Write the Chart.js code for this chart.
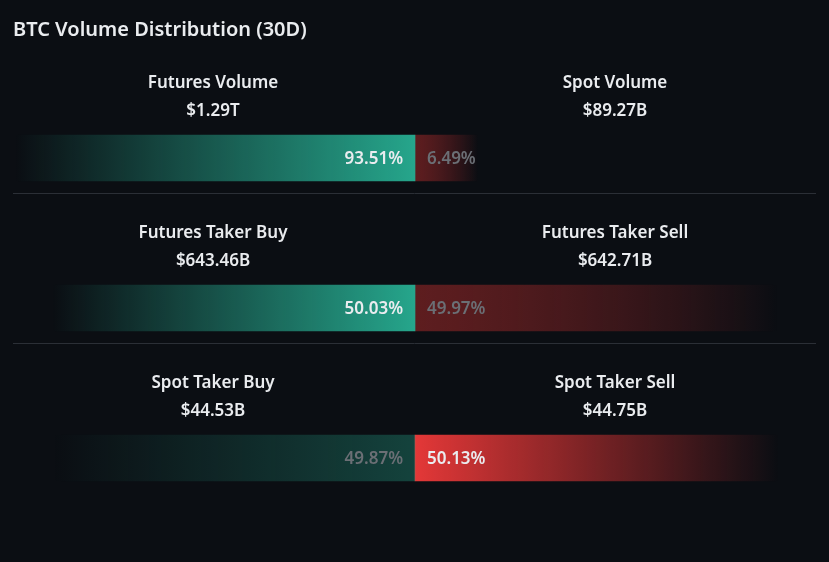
<!DOCTYPE html>
<html>
<head>
<meta charset="utf-8">
<script src="https://cdn.jsdelivr.net/npm/chart.js@4/dist/chart.umd.min.js"></script>
<style>
  html, body { margin: 0; padding: 0; background: #0b0e13; }
  #wrap { position: relative; width: 829px; height: 562px; }
</style>
</head>
<body>
<div id="wrap"><canvas id="c" width="829" height="562"></canvas></div>
<script>
// Data
const rows = ['Volume', 'Taker', 'SpotTaker'];
const leftNames = ['Futures Volume', 'Futures Taker Buy', 'Spot Taker Buy'];
const rightNames = ['Spot Volume', 'Futures Taker Sell', 'Spot Taker Sell'];
const leftAmounts = ['$1.29T', '$643.46B', '$44.53B'];
const rightAmounts = ['$89.27B', '$642.71B', '$44.75B'];
const leftPct = [93.51, 50.03, 49.87];
const rightPct = [6.49, 49.97, 50.13];

const MIN_LEN = 8.7; // keeps room for the label on tiny shares
const FONT = '"Noto Sans", "Open Sans", sans-serif';

function leftDominant(i) { return leftPct[i] >= rightPct[i]; }

function grad(ctx, dir) {
  const chart = ctx.chart, area = chart.chartArea;
  if (!area) return 'transparent';
  const i = ctx.dataIndex;
  const x = chart.scales.x;
  const raw = ctx.raw;
  const outer = x.getPixelForValue(dir < 0 ? Math.max(raw[0], x.min) : Math.min(raw[1], x.max));
  const inner = x.getPixelForValue(0);
  const g = chart.ctx.createLinearGradient(outer, 0, inner, 0);
  const strong = dir < 0 ? leftDominant(i) : !leftDominant(i);
  if (dir < 0) {
    g.addColorStop(0, 'rgba(38,166,140,0)');
    g.addColorStop(1, strong ? 'rgba(38,166,140,1)' : 'rgba(38,166,140,0.35)');
  } else {
    g.addColorStop(0, 'rgba(224,53,53,0)');
    g.addColorStop(1, strong ? 'rgba(228,56,56,1)' : 'rgba(150,40,40,0.6)');
  }
  return g;
}

const textPlugin = {
  id: 'texts',
  afterDatasetsDraw(chart) {
    const c = chart.ctx, x = chart.scales.x, y = chart.scales.y;
    const mid = x.getPixelForValue(0);
    c.save();
    c.fillStyle = '#eaecef';
    c.font = '600 20px ' + FONT;
    c.textAlign = 'left'; c.textBaseline = 'middle';
    c.fillText('BTC Volume Distribution (30D)', 13, 30);
    rows.forEach((r, i) => {
      const cy = y.getPixelForValue(i);
      c.textAlign = 'center';
      c.fillStyle = '#eaecef';
      c.font = '600 17px ' + FONT;
      c.fillText(leftNames[i], 213, cy - 75);
      c.fillText(rightNames[i], 615, cy - 75);
      c.fillText(leftAmounts[i], 213, cy - 47);
      c.fillText(rightAmounts[i], 615, cy - 47);
      c.textAlign = 'right';
      c.fillStyle = leftDominant(i) ? '#eaecef' : '#6b6f75';
      c.fillText(leftPct[i].toFixed(2) + '%', mid - 12, cy + 1);
      c.textAlign = 'left';
      c.fillStyle = leftDominant(i) ? '#6b6f75' : '#eaecef';
      c.fillText(rightPct[i].toFixed(2) + '%', mid + 12, cy + 1);
      if (i < rows.length - 1) {
        c.strokeStyle = '#2b2f36'; c.lineWidth = 1;
        c.beginPath(); c.moveTo(13, cy + 35.5); c.lineTo(816, cy + 35.5); c.stroke();
      }
    });
    c.restore();
  }
};

new Chart(document.getElementById('c'), {
  type: 'bar',
  data: {
    labels: rows,
    datasets: [
      { data: leftPct.map(v => [-v, 0]), backgroundColor: ctx => grad(ctx, -1), barThickness: 46, borderSkipped: false },
      { data: rightPct.map(v => [0, Math.max(v, MIN_LEN)]), backgroundColor: ctx => grad(ctx, 1), barThickness: 46, borderSkipped: false }
    ]
  },
  options: {
    indexAxis: 'y',
    responsive: false,
    animation: false,
    layout: { padding: { left: 15, right: 14, top: 83, bottom: 29 } },
    scales: {
      x: { min: -55.1, max: 55.1, display: false, stacked: true },
      y: { display: false, stacked: true }
    },
    plugins: { legend: { display: false }, tooltip: { enabled: false } }
  },
  plugins: [textPlugin]
});
</script>
</body>
</html>
